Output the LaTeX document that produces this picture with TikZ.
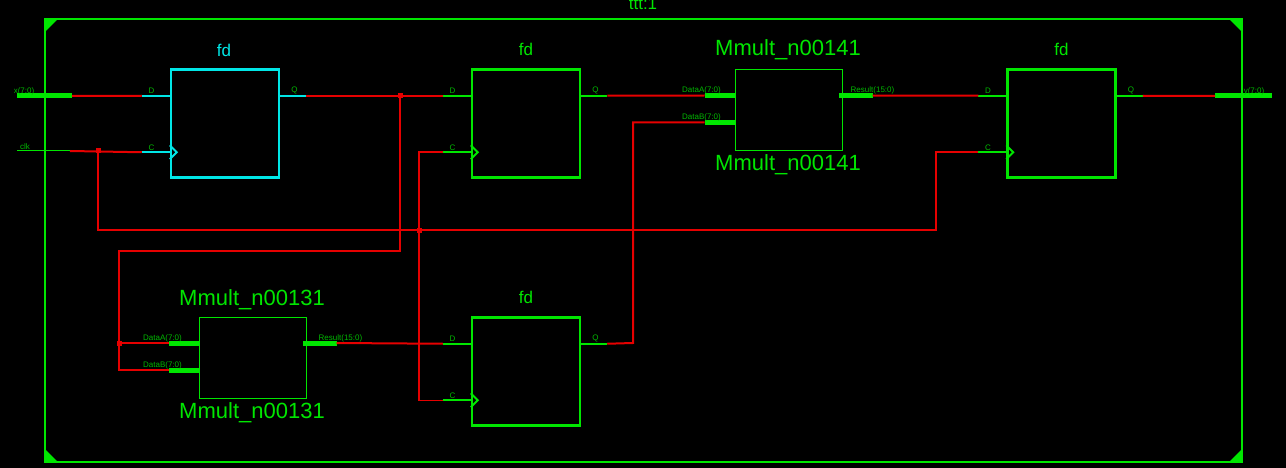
\documentclass[tikz,border=0pt]{standalone}
\usepackage{fontspec}
\setmainfont{Liberation Sans}
\usetikzlibrary{positioning}
\definecolor{sgreen}{RGB}{0,230,0}
\definecolor{scyan}{RGB}{0,230,230}
\definecolor{sred}{RGB}{230,0,0}
\tikzset{
  blk/.style={draw=sgreen, line width=2.5pt, minimum width=108pt, minimum height=108pt, inner sep=0pt},
  mul/.style={draw=sgreen, line width=1pt, minimum width=107pt, minimum height=81pt, inner sep=0pt},
  pin/.style={sgreen, line width=2pt},
  bus/.style={sgreen, line width=5pt},
  net/.style={sred, line width=2pt},
  pinlbl/.style={sgreen!80!black, font=\fontsize{8}{8}\selectfont, inner sep=1pt, above},
  title/.style={sgreen, font=\fontsize{17}{17}\selectfont},
  mtitle/.style={sgreen, font=\fontsize{22}{22}\selectfont},
  jn/.style={fill=sred, inner sep=0pt, minimum size=5pt}
}
\begin{document}
\begin{tikzpicture}[x=1pt,y=-1pt]
  \fill[black] (0,0) rectangle (1286,468);
  \useasboundingbox (0,0) rectangle (1286,468);
  % frame
  \draw[sgreen, line width=1.5pt] (45,19) rectangle (1242,462);
  \fill[sgreen] (45,19) -- (58,19) -- (45,32) -- cycle;
  \fill[sgreen] (1242,19) -- (1229,19) -- (1242,32) -- cycle;
  \fill[sgreen] (45,462) -- (58,462) -- (45,449) -- cycle;
  \fill[sgreen] (1242,462) -- (1229,462) -- (1242,449) -- cycle;
  \node[title] (top) at (643,4) {ttt:1};
  % flip-flops
  \node[blk, draw=scyan] (ff1) at (225,123.5) {};
  \node[blk] (ff2) at (526,123.5) {};
  \node[blk] (ff3) at (526,371.5) {};
  \node[blk] (ff4) at (1061.5,123.5) {};
  \node[title, scyan] at (224,50) {fd};
  \foreach \f in {ff2,ff3,ff4} {
    \node[title] at ([shift={(0,-19)}]\f.north) {fd};
  }
  % multipliers
  \node[mul] (m1) at (788.5,110.5) {};
  \node[mtitle] at (788,50) {Mmult\_n00141};
  \node[mtitle] at (788,165) {Mmult\_n00141};
  \node[mul] (m2) at (252.5,358) {};
  \node[mtitle] at (252,300) {Mmult\_n00131};
  \node[mtitle] at (252,413) {Mmult\_n00131};
  % pins of the flip-flops
  \foreach \f/\c in {ff1/scyan,ff2/sgreen,ff3/sgreen,ff4/sgreen} {
    \coordinate (\f d) at ([shift={(-28,27.5)}]\f.north west);
    \coordinate (\f c) at ([shift={(-28,-26.5)}]\f.south west);
    \coordinate (\f q) at ([shift={(26,27.5)}]\f.north east);
    \draw[pin, \c] (\f d) -- ++(28,0) node[pinlbl, pos=0.35] {D};
    \draw[pin, \c] (\f c) -- ++(28,0) node[pinlbl, pos=0.35] {C};
    \draw[pin, \c] (\f q) -- ++(-26,0) node[pinlbl, pos=0.45] {Q};
    \draw[\c, line width=2pt] ([shift={(0,-33.5)}]\f.south west) -- ++(7,7) -- ++(-7,7);
  }
  % pins of the multipliers
  \foreach \m in {m1,m2} {
    \coordinate (\m a) at ([shift={(-30,26)}]\m.north west);
    \coordinate (\m b) at ([shift={(-30,53)}]\m.north west);
    \coordinate (\m r) at ([shift={(30,26)}]\m.north east);
    \draw[bus] (\m a) -- ++(30,0);
    \draw[bus] (\m b) -- ++(30,0);
    \draw[bus] (\m r) -- ++(-34,0);
  }
  \node[pinlbl] at ([xshift=-3pt]m1a) {DataA(7:0)};
  \node[pinlbl] at ([xshift=-3pt]m1b) {DataB(7:0)};
  \node[pinlbl] at ([xshift=0pt]m1r) {Result(15:0)};
  \node[pinlbl] at ([xshift=-6pt]m2a) {DataA(7:0)};
  \node[pinlbl] at ([xshift=-6pt]m2b) {DataB(7:0)};
  \node[pinlbl] at ([xshift=4pt]m2r) {Result(15:0)};
  % top ports
  \coordinate (xin) at (72,96);
  \coordinate (clk) at (70,151);
  \coordinate (yout) at (1215,96);
  \draw[bus] (17,96) -- (xin);
  \node[pinlbl] at (24,96) {x(7:0)};
  \draw[sgreen, line width=1pt] (17,151) -- (clk);
  \node[pinlbl] at (25,151) {clk};
  \draw[bus] (yout) -- (1272,96);
  \node[pinlbl] at (1254,96) {y(7:0)};
  % nets
  \draw[net] (xin) -- (ff1d);
  \draw[net] (clk) -- (ff1c);
  \draw[net] (ff1q) -- (ff2d);
  \coordinate (jq) at (400,96);
  \coordinate (jc) at (98,151);
  \coordinate (jk) at (419,230);
  \coordinate (ja) at (119,343);
  \draw[net] (jq) -- (400,251) -- (119,251) |- (m2b);
  \draw[net] (ja) -- (m2a);
  \draw[net, line width=1.5pt] (jc) -- (98,230) -- (936,230) |- (ff4c);
  \draw[net, line width=1.5pt] (ff2c) -| (419,300) |- (ff3c);
  \draw[net] (m2r) -- (ff3d);
  \draw[net] (ff3q) -- (633,343) |- (m1b);
  \draw[net] (ff2q) -- (m1a);
  \draw[net] (m1r) -- (ff4d);
  \draw[net] (ff4q) -- (yout);
  \foreach \j in {jq,jc,jk,ja} \node[jn] at (\j) {};
\end{tikzpicture}
\end{document}
